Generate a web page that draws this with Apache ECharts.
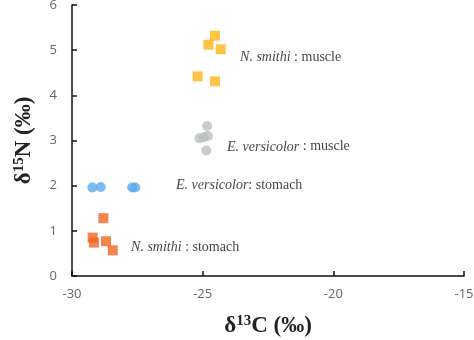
<!DOCTYPE html>
<html><head><meta charset="utf-8">
<script src="https://cdn.jsdelivr.net/npm/echarts@6/dist/echarts.min.js"></script>
<style>html,body{margin:0;padding:0;background:#fff}#c{width:474px;height:340px}</style>
</head><body><div id="c"></div>
<script>
const xTicks = [-30, -25, -20, -15];
const yTicks = [0, 1, 2, 3, 4, 5, 6];
const nsMuscle = [[-24.53, 5.32], [-24.78, 5.12], [-24.31, 5.02], [-25.19, 4.42], [-24.53, 4.31]];
const evMuscle = [[-24.83, 3.32], [-25.12, 3.05], [-24.95, 3.07], [-24.8, 3.1], [-24.86, 2.78]];
const evStomach = [[-29.22, 1.96], [-28.9, 1.97], [-27.7, 1.96], [-27.58, 1.96]];
const nsStomach = [[-28.8, 1.28], [-29.21, 0.85], [-29.16, 0.74], [-28.7, 0.77], [-28.44, 0.57]];
const labels = [
  {name: 'N. smithi', rest: ' : muscle', x: -23.57, y: 4.85},
  {name: 'E. versicolor', rest: ' : muscle', x: -24.07, y: 2.86},
  {name: 'E. versicolor', rest: ': stomach', x: -26.02, y: 2.01},
  {name: 'N. smithi', rest: ' : stomach', x: -27.74, y: 0.64}
];
const chart = echarts.init(document.getElementById('c'));
const serif = '"Liberation Serif","DejaVu Serif",serif';
const titleRich = {
  d: {fontFamily: serif, fontWeight: 'bold', fontSize: 23, color: '#222'},
  s: {fontFamily: serif, fontWeight: 'bold', fontSize: 15, color: '#222', verticalAlign: 'top', padding: [0, 0, 9, 0]}
};
chart.setOption({
  animation: false,
  grid: {left: 72, right: 10, top: 5, bottom: 64, outerBoundsMode: 'none', containLabel: false},
  xAxis: {
    type: 'value', min: -30, max: -15, interval: 5,
    axisLine: {lineStyle: {color: '#111', width: 1.5}},
    axisTick: {inside: true, length: 5, lineStyle: {color: '#111', width: 1.5}},
    splitLine: {show: false},
    axisLabel: {color: '#666', fontSize: 13, fontFamily: '"Open Sans",sans-serif', margin: 12},
    name: '{d|δ}{s|13}{d|C (‰)}', nameLocation: 'middle', nameGap: 38,
    nameTextStyle: {rich: titleRich}
  },
  yAxis: {
    type: 'value', min: 0, max: 6, interval: 1,
    axisLine: {lineStyle: {color: '#111', width: 1.5}},
    axisTick: {inside: true, length: 5, lineStyle: {color: '#111', width: 1.5}},
    splitLine: {show: false},
    axisLabel: {color: '#666', fontSize: 13, fontFamily: '"Open Sans",sans-serif', margin: 15},
    name: '{d|δ}{s|15}{d|N (‰)}', nameLocation: 'middle', nameGap: 36, nameRotate: 90,
    nameTextStyle: {rich: titleRich}
  },
  series: [
    {type: 'scatter', data: nsMuscle, symbol: 'rect', symbolSize: 10, itemStyle: {color: '#FDB517'}},
    {type: 'scatter', data: evMuscle, symbol: 'circle', symbolSize: 10, itemStyle: {color: '#B9BFBF'}},
    {type: 'scatter', data: evStomach, symbol: 'circle', symbolSize: 10, itemStyle: {color: '#5AAAEC'}},
    {type: 'scatter', data: nsStomach, symbol: 'rect', symbolSize: 10, itemStyle: {color: '#F26522'}},
    {type: 'scatter', symbolSize: 0, silent: true,
      data: labels.map(l => ({value: [l.x, l.y], name: l.name, rest: l.rest})),
      label: {show: true, position: 'right', distance: 0,
        formatter: p => '{i|' + p.data.name + '}{n|' + p.data.rest + '}',
        rich: {
          i: {fontFamily: serif, fontStyle: 'italic', fontSize: 14, color: '#111'},
          n: {fontFamily: serif, fontSize: 14, color: '#111'}
        }}
    }
  ]
});
</script></body></html>
